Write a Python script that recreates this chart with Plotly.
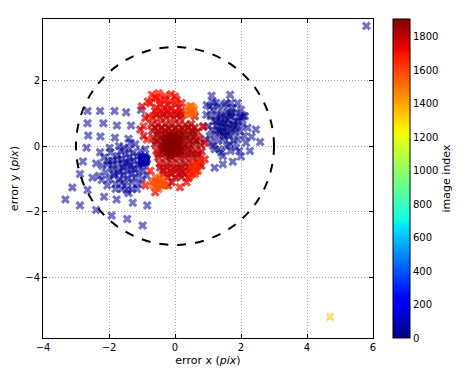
import plotly.graph_objects as go

# ---------------- data ----------------
# sparse blue points on the left
left_sparse_x = [-2.65, -2.27, -1.83, -1.48, -1.03, -2.65, -2.17, -1.76, -1.33, -2.63, -2.26, -1.82, -1.41,
                 -2.68, -2.27, -2.79, -2.39, -2.88, -2.50, -3.11, -2.65, -3.32, -2.88, -2.39, -2.15, -1.77,
                 -1.28, -0.84, -1.92, -1.45, -0.98, -1.41, -2.22]
left_sparse_y = [1.06, 1.06, 1.06, 1.02, 1.09, 0.69, 0.69, 0.62, 0.62, 0.32, 0.29, 0.25, 0.22,
                 -0.05, -0.19, -0.47, -0.53, -0.85, -0.96, -1.26, -1.33, -1.62, -1.80, -1.94, -1.54, -1.62,
                 -1.72, -1.80, -2.11, -2.21, -2.41, -1.43, -1.03]
left_sparse_idx = [30, 31, 32, 33, 34, 35, 36, 37, 38, 39, 40, 41, 42,
                   43, 44, 45, 46, 47, 48, 49, 50, 51, 52, 53, 54, 55,
                   56, 57, 58, 59, 60, 61, 62]

# dense blue cluster on the left
left_dense_x = [-2.15, -2.05, -2.1, -2.0, -1.95, -1.9, -1.88, -1.85, -1.8, -1.75, -1.72, -1.7, -1.68, -1.65,
                -1.6, -1.58, -1.55, -1.52, -1.5, -1.47, -1.45, -1.42, -1.4, -1.37, -1.35, -1.32, -1.3,
                -1.27, -1.25, -1.22, -1.2, -1.15, -1.12, -1.1, -1.05, -1.02, -1.0, -0.95, -1.35, -1.2,
                -1.62, -1.8, -2.05, -2.2, -1.98, -1.3, -1.7, -1.1, -0.85, -0.9, -1.55, -2.3, -1.45, -1.15,
                -1.9, -1.65, -1.4, -1.75, -1.55, -1.3, -1.85, -2.0, -1.6]
left_dense_y = [-0.35, -0.55, -0.8, -1.0, -0.2, -0.45, -0.7, -0.9, -1.15, -0.3, -0.55, -0.8, -1.0, -0.15,
                -0.4, -0.65, -0.9, -1.2, -0.25, -0.5, -0.75, -1.0, -0.1, -0.35, -0.6, -0.85, -1.1,
                -0.2, -0.45, -0.7, -0.95, -0.3, -0.55, -0.8, -0.15, -0.6, -1.0, -0.75, 0.1, 0.05,
                -1.3, -1.3, -1.2, -0.6, -0.05, -1.3, 0.0, -1.15, -0.9, -0.1, -0.05, -0.9, -1.35, -1.3,
                -0.6, -0.75, -0.5, -0.4, -0.55, -0.7, -0.85, -0.45, -1.1]
left_dense_idx = [20, 20, 21, 21, 22, 22, 23, 23, 24, 24, 25, 25, 26, 26,
                  27, 27, 28, 28, 29, 29, 30, 30, 31, 31, 32, 32, 33,
                  33, 34, 34, 35, 35, 36, 36, 37, 37, 38, 38, 39, 39,
                  40, 40, 41, 41, 42, 42, 43, 43, 44, 44, 45, 45, 46, 46,
                  47, 47, 48, 48, 49, 49, 50, 50, 51]

# very dense dark blue blob
blob_x = [-0.94, -0.9, -0.98, -0.88, -1.0, -0.92, -0.96, -0.85, -1.03, -0.9, -0.95, -0.93, -0.97, -0.89, -1.0]
blob_y = [-0.42, -0.38, -0.46, -0.47, -0.36, -0.32, -0.52, -0.4, -0.43, -0.5, -0.4, -0.45, -0.35, -0.43, -0.5]
blob_idx = [60, 61, 62, 63, 64, 65, 66, 67, 68, 69, 70, 71, 72, 73, 74]

# blue cluster on the right
right_x = [1.0, 1.05, 1.08, 1.1, 1.12, 1.15, 1.18, 1.2, 1.22, 1.25, 1.28, 1.3, 1.32, 1.35, 1.38, 1.4, 1.42,
           1.45, 1.47, 1.5, 1.52, 1.55, 1.57, 1.6, 1.62, 1.65, 1.68, 1.7, 1.72, 1.75, 1.78, 1.8, 1.82,
           1.85, 1.88, 1.9, 1.95, 1.98, 2.0, 2.05, 2.1, 2.12, 1.3, 1.5, 1.6, 1.4, 1.55, 1.7, 1.25,
           1.15, 1.35, 1.65, 1.85, 2.2, 2.15, 1.45, 1.95, 0.95, 0.92, 1.05,
           1.15, 1.67, 2.07, 2.32, 2.58, 2.27, 1.75, 1.45, 1.20, 2.0, 0.86, 2.45, 1.9, 1.11, 0.96, 2.02,
           1.4, 1.6, 1.8, 1.5, 1.7, 1.35, 1.25, 1.55, 1.75, 1.45, 1.65, 1.9]
right_y = [0.6, 0.3, 0.9, 0.1, 0.5, 1.1, 0.75, -0.1, 0.35, 0.95, 0.6, 0.15, 1.2, 0.8, 0.4, -0.2, 1.0,
           0.6, 0.2, 1.25, 0.85, 0.45, 0.0, 1.05, 0.65, 0.3, -0.15, 0.9, 0.5, 1.15, 0.15, 0.75, 0.4,
           1.0, 0.6, 0.2, 0.85, 0.45, 1.1, 0.65, 0.3, 0.9, 0.5, 0.7, 0.35, 0.9, 1.3, 1.3, 1.3,
           0.0, -0.1, 0.05, -0.05, 0.55, 0.1, -0.3, -0.15, 0.95, 0.2, 1.2,
           1.33, 1.55, 0.92, 0.28, 0.12, -0.15, -0.48, -0.55, -0.66, -0.32, 0.58, 0.5, 1.3, 1.52, 1.24, 0.89,
           0.7, 0.8, 0.55, 0.3, 1.0, 0.45, 0.75, 0.55, 0.65, 0.4, 0.95, 0.75]
right_idx = [5, 5, 6, 6, 7, 7, 8, 8, 9, 9, 10, 10, 11, 11, 12, 12, 13,
             13, 14, 14, 15, 15, 16, 16, 17, 17, 18, 18, 19, 19, 20, 20, 21,
             21, 22, 22, 23, 23, 24, 24, 25, 25, 26, 26, 27, 27, 28, 28, 29,
             29, 30, 30, 31, 31, 32, 32, 33, 33, 34, 34,
             35, 35, 36, 36, 37, 37, 38, 38, 39, 39, 40, 40, 41, 41, 42, 42,
             8, 10, 12, 14, 16, 18, 9, 11, 13, 15, 17, 19]

# isolated outliers
outlier_x = [5.8, 4.7]
outlier_y = [3.64, -5.18]
outlier_idx = [40, 1330]

# main red cluster
red_x = [-0.45, -0.22, 0.03,
         -0.6, -0.38, -0.21, 0.02, 0.19,
         -0.66, -0.44, -0.26, -0.04, 0.16,
         -0.71, -0.52, -0.29, -0.11, 0.12, 0.31, 0.49,
         -0.69, -0.51, -0.31, -0.09, 0.11, 0.29, 0.52, 0.68,
         -0.66, -0.44, -0.26, -0.06, 0.16, 0.34, 0.56, 0.74,
         -0.61, -0.39, -0.21, 0.01, 0.19, 0.41, 0.59, 0.79,
         -0.56, -0.34, -0.16, 0.06, 0.24, 0.46, 0.64, 0.81,
         -0.51, -0.29, -0.11, 0.11, 0.29, 0.51, 0.69,
         -0.46, -0.24, -0.06, 0.16, 0.34, 0.56, 0.74,
         -0.36, -0.14, 0.06, 0.24, 0.46, 0.64,
         -0.21, 0.01, 0.19, 0.41,
         -0.55, -0.33, -0.12, 0.12,
         -0.58, -0.36, -0.15, 0.05, 0.22,
         -0.6, -0.4, -0.19, 0.02, 0.22, 0.4, 0.6,
         -0.57, -0.37, -0.17, 0.03, 0.22, 0.43, 0.63,
         -0.5, -0.3, -0.1, 0.08, 0.3, 0.5, 0.7,
         -0.45, -0.25, -0.03, 0.18, 0.4, 0.6,
         -0.35, -0.12, 0.1, 0.3, 0.52,
         -0.5, -0.3, -0.1, 0.1, 0.3, 0.5, -0.4, -0.2, 0.0, 0.2, 0.4,
         -0.61, 0.05, -0.8, -0.95, -0.85, -0.75, -0.9, -0.6, 0.15, 0.35, 0.9, 0.85, -0.3,
         -1.0, -0.2, -0.9, -1.05, -0.75, -0.95, 0.8, 0.9, -0.1, 0.6, -0.45, -0.15,
         -0.7, -0.5, -0.3, -0.82, -0.12, 0.0, -0.55, 0.2]
red_y = [1.26, 1.24, 1.27,
         1.06, 1.04, 1.07, 1.03, 1.05,
         0.86, 0.84, 0.87, 0.83, 0.86,
         0.66, 0.64, 0.67, 0.63, 0.66, 0.64, 0.67,
         0.46, 0.44, 0.47, 0.43, 0.46, 0.44, 0.47, 0.43,
         0.26, 0.24, 0.27, 0.23, 0.26, 0.24, 0.27, 0.23,
         0.06, 0.04, 0.07, 0.03, 0.06, 0.04, 0.07, 0.03,
         -0.14, -0.16, -0.13, -0.17, -0.14, -0.16, -0.13, -0.17,
         -0.34, -0.36, -0.33, -0.37, -0.34, -0.36, -0.33,
         -0.54, -0.56, -0.53, -0.57, -0.54, -0.56, -0.53,
         -0.74, -0.76, -0.73, -0.77, -0.74, -0.76,
         -0.94, -0.96, -0.93, -0.97,
         1.15, 1.16, 1.14, 1.15,
         0.95, 0.96, 0.94, 0.95, 0.93,
         0.55, 0.56, 0.54, 0.55, 0.53, 0.56, 0.55,
         0.15, 0.16, 0.14, 0.15, 0.13, 0.16, 0.15,
         -0.25, -0.24, -0.26, -0.25, -0.27, -0.24, -0.25,
         -0.65, -0.64, -0.66, -0.65, -0.63, -0.66,
         -0.85, -0.84, -0.86, -0.85, -0.83,
         0.35, 0.36, 0.34, 0.35, 0.33, 0.36, -0.05, -0.06, -0.04, -0.05, -0.07,
         1.47, 1.41, 0.9, 0.6, 0.2, -0.75, -1.2, -1.4, -1.25, -1.1, -0.4, 0.6, 1.4,
         1.2, -1.2, 0.85, 0.5, 1.3, 0.3, -0.6, 0.1, -1.1, 0.9, 1.38, 1.35,
         1.55, 1.6, 1.52, 1.35, 1.57, 1.5, 1.45, 1.3]
red_idx = [1760, 1762, 1764,
           1768, 1770, 1772, 1774, 1776,
           1778, 1780, 1782, 1784, 1786,
           1790, 1792, 1794, 1796, 1798, 1800, 1802,
           1804, 1806, 1808, 1810, 1812, 1814, 1816, 1818,
           1820, 1822, 1824, 1826, 1828, 1830, 1832, 1834,
           1836, 1838, 1840, 1842, 1844, 1846, 1848, 1850,
           1790, 1792, 1794, 1796, 1798, 1800, 1802, 1804,
           1806, 1808, 1810, 1812, 1814, 1816, 1818,
           1820, 1822, 1824, 1826, 1828, 1830, 1832,
           1804, 1806, 1808, 1810, 1812, 1814,
           1796, 1798, 1800, 1802,
           1720, 1722, 1724, 1726,
           1764, 1766, 1768, 1770, 1772,
           1826, 1828, 1830, 1832, 1834, 1836, 1838,
           1840, 1842, 1844, 1846, 1848, 1850, 1852,
           1800, 1805, 1810, 1815, 1820, 1825, 1830,
           1785, 1790, 1795, 1800, 1805, 1810,
           1775, 1780, 1785, 1790, 1795,
           1850, 1855, 1860, 1865, 1870, 1875, 1860, 1865, 1870, 1875, 1860,
           1680, 1685, 1690, 1695, 1700, 1705, 1710, 1715, 1720, 1725, 1730, 1735, 1740,
           1745, 1750, 1755, 1760, 1765, 1770, 1775, 1780, 1785, 1790, 1700, 1710,
           1690, 1695, 1700, 1705, 1710, 1715, 1720, 1725]

# dark red core
core_x = [-0.1, -0.2, 0.0, -0.15, 0.05, -0.25, -0.05, -0.1, 0.1, -0.3, -0.18, 0.02, -0.08, -0.12, 0.08, -0.22,
          -0.35, 0.15, -0.05, -0.28, 0.12, -0.15]
core_y = [0.03, 0.1, 0.1, -0.08, -0.05, -0.02, 0.2, -0.15, 0.05, 0.12, 0.25, -0.2, 0.08, -0.02, 0.18, -0.18,
          -0.1, -0.15, 0.32, 0.25, 0.3, -0.3]
core_idx = [1890, 1891, 1892, 1893, 1894, 1895, 1896, 1897, 1898, 1899, 1900, 1901, 1902, 1903, 1904, 1905,
            1880, 1882, 1884, 1886, 1888, 1889]

# orange blobs
orange_x = [0.47, 0.4, 0.55, 0.42, 0.52, 0.38, 0.58, 0.47, 0.45, 0.5,
            -0.5, -0.6, -0.4, -0.55, -0.45, -0.65, -0.35, -0.5, -0.58, -0.42, -0.7, -0.3,
            0.55, 0.65, 0.6, 0.7, 0.5, 0.75, 0.45]
orange_y = [1.08, 1.16, 1.01, 0.96, 1.18, 1.04, 1.11, 1.21, 0.96, 1.06,
            -1.13, -1.05, -1.2, -1.25, -1.0, -1.2, -1.05, -1.3, -0.95, -1.15, -1.1, -1.2,
            -0.7, -0.55, -0.85, -0.75, -0.6, -0.45, -0.9]
orange_idx = [1520, 1522, 1524, 1526, 1528, 1530, 1532, 1534, 1536, 1538,
              1560, 1562, 1564, 1566, 1568, 1570, 1572, 1574, 1576, 1578, 1580, 1582,
              1640, 1645, 1650, 1655, 1660, 1665, 1670]

circle_radius = 3
cmin, cmax = 0, 1907
cbar_ticks = [0, 200, 400, 600, 800, 1000, 1200, 1400, 1600, 1800]
x_ticks = [-4, -2, 0, 2, 4, 6]
x_ticktext = ["\u22124", "\u22122", "0", "2", "4", "6"]
y_ticks = [-4, -2, 0, 2]
y_ticktext = ["\u22124", "\u22122", "0", "2"]

# matplotlib "jet"
jet = [[0.0, "rgb(0,0,128)"], [0.11, "rgb(0,0,255)"], [0.125, "rgb(0,0,255)"],
       [0.34, "rgb(0,219,255)"], [0.35, "rgb(0,229,247)"], [0.375, "rgb(20,255,226)"],
       [0.64, "rgb(239,255,8)"], [0.65, "rgb(247,245,0)"], [0.66, "rgb(255,236,0)"],
       [0.89, "rgb(255,19,0)"], [0.91, "rgb(232,0,0)"], [1.0, "rgb(128,0,0)"]]

sparse_x = left_sparse_x + left_dense_x + right_x + outlier_x
sparse_y = left_sparse_y + left_dense_y + right_y + outlier_y
sparse_c = left_sparse_idx + left_dense_idx + right_idx + outlier_idx

dense_x = blob_x + red_x + core_x + orange_x
dense_y = blob_y + red_y + core_y + orange_y
dense_c = blob_idx + red_idx + core_idx + orange_idx

fig = go.Figure()
fig.add_trace(go.Scatter(
    x=sparse_x, y=sparse_y, mode="markers",
    marker=dict(symbol="x", size=8, color=sparse_c, colorscale=jet, cmin=cmin, cmax=cmax,
                opacity=0.55, line=dict(width=0), showscale=False),
    showlegend=False, hoverinfo="skip"))
fig.add_trace(go.Scatter(
    x=dense_x, y=dense_y, mode="markers",
    marker=dict(symbol="x", size=8, color=dense_c, colorscale=jet, cmin=cmin, cmax=cmax,
                opacity=0.75, line=dict(width=0), showscale=True,
                colorbar=dict(
                    x=1.0606, xanchor="left", xpad=0, y=0.5, yanchor="middle", ypad=0,
                    len=1.0, lenmode="fraction", thickness=17,
                    outlinecolor="black", outlinewidth=1,
                    tickvals=cbar_ticks, ticks="",
                    tickfont=dict(size=10, color="black"),
                    title=dict(text="image index", side="right", font=dict(size=11, color="black")),
                )),
    showlegend=False, hoverinfo="skip"))

fig.add_shape(type="circle", xref="x", yref="y",
              x0=-circle_radius, y0=-circle_radius, x1=circle_radius, y1=circle_radius,
              line=dict(color="black", width=2, dash="dash"))

axis_common = dict(showline=True, linecolor="black", linewidth=1, mirror="ticks",
                   ticks="inside", ticklen=4, tickcolor="black", automargin=False,
                   showgrid=True, gridcolor="#a8a8a8", griddash="1px,2px", gridwidth=1,
                   zeroline=False, tickfont=dict(size=10, color="black"))

# the page body adds an 8px offset, so the figure is 8px smaller and margins shifted
fig.update_layout(
    width=466, height=364,
    margin=dict(l=35, r=101, t=11, b=34, autoexpand=False),
    paper_bgcolor="white", plot_bgcolor="white",
    font=dict(family="DejaVu Sans", size=10, color="black"),
    xaxis=dict(range=[-4, 6], tickvals=x_ticks, ticktext=x_ticktext,
               title=dict(text="error x (<i>pix</i>)", font=dict(size=11), standoff=4), **axis_common),
    yaxis=dict(range=[-5.82, 3.85], tickvals=y_ticks, ticktext=y_ticktext,
               title=dict(text="error y (<i>pix</i>)", font=dict(size=11), standoff=6), **axis_common),
)

fig.write_html("out.html")
